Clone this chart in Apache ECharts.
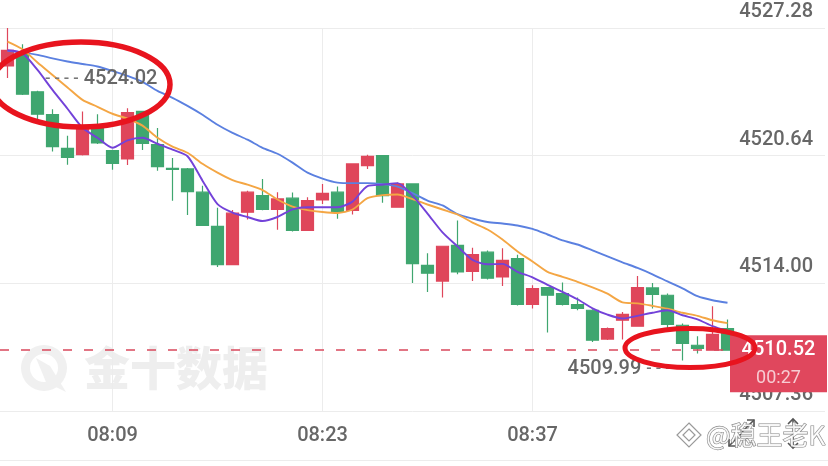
<!DOCTYPE html>
<html>
<head>
<meta charset="utf-8">
<script src="https://cdn.jsdelivr.net/npm/echarts@6/dist/echarts.min.js"></script>
<style>
html,body{margin:0;padding:0;background:#ffffff;}
#c{width:828px;height:466px;}
</style>
</head>
<body>
<div id="c"></div>
<script>
// ---- data ----
const categories = ['08:02','08:03','08:04','08:05','08:06','08:07','08:08','08:09','08:10','08:11',
  '08:12','08:13','08:14','08:15','08:16','08:17','08:18','08:19','08:20','08:21',
  '08:22','08:23','08:24','08:25','08:26','08:27','08:28','08:29','08:30','08:31',
  '08:32','08:33','08:34','08:35','08:36','08:37','08:38','08:39','08:40','08:41',
  '08:42','08:43','08:44','08:45','08:46','08:47','08:48','08:49','08:50','08:51',
  '08:52','08:53','08:54','08:55','08:56'];

// [open, close, low, high]
const candles = [
  [4525.31,4526.12,4524.68,4527.28],
  [4525.91,4523.84,4523.80,4526.43],
  [4523.96,4522.80,4522.37,4524.02],
  [4522.77,4521.11,4520.86,4523.06],
  [4521.02,4520.55,4520.17,4521.68],
  [4520.69,4522.20,4520.65,4522.94],
  [4522.23,4521.30,4521.25,4522.80],
  [4520.90,4520.24,4519.91,4520.95],
  [4520.47,4522.88,4520.16,4523.11],
  [4522.94,4521.28,4520.93,4522.98],
  [4521.21,4520.07,4519.86,4522.08],
  [4519.98,4519.93,4518.30,4520.52],
  [4519.95,4518.77,4517.56,4520.00],
  [4518.74,4517.01,4516.98,4519.08],
  [4516.96,4514.97,4514.85,4517.93],
  [4514.97,4517.65,4514.95,4517.82],
  [4517.70,4518.74,4517.32,4518.82],
  [4518.56,4517.84,4517.80,4519.43],
  [4517.84,4518.39,4516.79,4518.74],
  [4518.43,4516.75,4516.70,4518.72],
  [4516.75,4518.30,4516.72,4518.48],
  [4518.34,4518.68,4518.13,4519.17],
  [4518.74,4517.73,4517.36,4519.03],
  [4517.79,4520.21,4517.58,4520.24],
  [4520.12,4520.60,4519.95,4520.69],
  [4520.64,4518.56,4518.19,4520.66],
  [4517.96,4519.17,4517.95,4519.25],
  [4519.17,4515.02,4514.02,4519.20],
  [4514.93,4514.53,4513.55,4515.57],
  [4514.12,4515.93,4513.26,4515.95],
  [4515.97,4514.59,4514.47,4517.27],
  [4514.62,4515.49,4514.12,4515.85],
  [4515.62,4514.27,4514.20,4515.71],
  [4514.33,4515.19,4513.86,4515.83],
  [4515.28,4512.91,4512.85,4515.49],
  [4512.90,4513.73,4512.69,4513.90],
  [4513.78,4513.38,4511.44,4513.80],
  [4513.47,4512.90,4512.85,4514.04],
  [4512.90,4512.69,4512.60,4513.26],
  [4512.60,4511.04,4510.95,4512.65],
  [4511.10,4511.65,4511.05,4511.70],
  [4512.08,4512.39,4511.08,4512.51],
  [4511.77,4513.78,4511.75,4514.38],
  [4513.76,4513.43,4512.69,4514.02],
  [4513.38,4511.87,4511.60,4513.47],
  [4511.82,4510.87,4509.99,4511.91],
  [4510.78,4510.61,4510.35,4511.25],
  [4510.52,4511.35,4510.50,4512.81],
  [4511.65,4510.52,4510.50,4512.12]
];

const maPurple = [4526.12,4525.96,4525.10,4524.06,4523.08,4522.09,4521.57,4521.05,4521.44,4521.57,
  4521.26,4520.95,4520.61,4519.34,4518.12,4517.68,4517.45,4517.24,4517.45,4517.85,
  4517.96,4517.96,4517.96,4518.25,4519.06,4519.13,4519.21,4518.56,4517.63,4516.65,
  4515.92,4515.22,4514.99,4515.01,4514.60,4514.31,4513.92,4513.56,4513.17,4512.70,
  4512.37,4512.17,4512.31,4512.47,4512.60,4512.34,4512.13,4511.77,4511.51];

const maOrange = [4526.57,4526.17,4525.49,4524.84,4524.19,4523.54,4523.18,4522.82,4522.56,4522.20,
  4521.57,4521.11,4520.79,4520.22,4519.76,4519.37,4519.13,4518.85,4518.36,4517.99,
  4517.81,4517.71,4517.66,4517.84,4518.43,4518.59,4518.62,4518.38,4518.10,4517.84,
  4517.58,4517.16,4516.80,4516.28,4515.66,4515.14,4514.60,4514.34,4514.08,4513.79,
  4513.46,4513.01,4512.96,4512.83,4512.68,4512.47,4512.31,4512.08,4511.93];

const maBlue = [4526.09,4526.01,4525.88,4525.70,4525.54,4525.41,4525.28,4525.05,4524.79,4524.48,
  4524.01,4523.65,4523.23,4522.77,4522.25,4521.83,4521.47,4521.05,4520.74,4520.28,
  4519.76,4519.45,4519.24,4519.21,4519.21,4519.16,4519.03,4518.69,4518.30,4518.05,
  4517.60,4517.37,4517.19,4517.11,4517.01,4516.83,4516.54,4516.23,4516.02,4515.71,
  4515.40,4515.09,4514.80,4514.47,4514.10,4513.74,4513.33,4513.12,4512.99];

const yTicks = [4507.36, 4514.00, 4520.64, 4527.28];
const xLabels = ['08:09','08:23','08:37'];
const lastPrice = 4510.52;
const countdown = '00:27';
const highMark = {time:'08:04', value:4524.02};
const lowMark = {time:'08:47', value:4509.99};

// ---- styles ----
const RED = '#df465b';
const GREEN = '#3fa66f';
const AXIS_TXT = '#676767';
const FONT = 'Roboto';

const chart = echarts.init(document.getElementById('c'), null, {renderer:'canvas'});

const option = {
  animation: false,
  backgroundColor: '#ffffff',
  grid: {left: 0, right: 3, top: 27, bottom: 55},
  xAxis: {
    type: 'category',
    data: categories,
    boundaryGap: true,
    axisLine: {show: false},
    axisTick: {show: false},
    splitLine: {show: false},
    axisLabel: {
      interval: (i, v) => xLabels.indexOf(v) >= 0,
      color: AXIS_TXT, fontSize: 20, fontWeight: 500, fontFamily: FONT, margin: 13, lineHeight: 24
    }
  },
  yAxis: {
    type: 'value',
    position: 'right',
    min: yTicks[0],
    max: yTicks[yTicks.length - 1],
    axisLine: {show: false},
    axisTick: {show: false, customValues: yTicks},
    axisLabel: {
      inside: true, customValues: yTicks,
      formatter: v => Number(v).toFixed(2),
      color: AXIS_TXT, fontSize: 20, fontWeight: 500, fontFamily: FONT, margin: 12,
      verticalAlign: 'bottom', lineHeight: 24, padding: [0, 0, 4, 0]
    },
    splitLine: {show: true, lineStyle: {color: '#ececec', width: 1}}
  },
  series: [
    {
      type: 'candlestick',
      data: candles,
      barWidth: 12,
      z: 2,
      itemStyle: {color: RED, color0: GREEN, borderColor: RED, borderColor0: GREEN, borderWidth: 1.2},
      markLine: {
        silent: true, symbol: ['none', 'none'], z: 3, animation: false,
        label: {show: false},
        lineStyle: {color: '#d9485c', type: [9, 12], width: 1.5},
        data: [{yAxis: lastPrice}]
      },
      markPoint: {
        silent: true, symbol: 'circle', symbolSize: 1, animation: false,
        itemStyle: {color: 'rgba(0,0,0,0)'},
        label: {show: true, color: AXIS_TXT, fontSize: 20, fontWeight: 500, fontFamily: FONT,
                rich: {d: {fontSize: 16, color: '#777', fontFamily: FONT}}},
        data: [
          {coord: [highMark.time, highMark.value], value: highMark.value,
           label: {position: 'right', distance: 7, offset: [0, -12],
                   formatter: p => '{d|- - - -} ' + Number(p.value).toFixed(2)}},
          {coord: [lowMark.time, lowMark.value], value: lowMark.value,
           label: {position: 'left', distance: 2, offset: [0, 9],
                   formatter: p => Number(p.value).toFixed(2) + ' {d|- - - -}'}}
        ]
      }
    },
    {
      type: 'line', data: maBlue, showSymbol: false, smooth: 0.25, z: 3,
      lineStyle: {color: '#5b80e0', width: 1.9},
      markLine: {
        silent: true, symbol: ['none', 'none'], z: 1, animation: false,
        label: {show: false},
        lineStyle: {color: '#ececec', type: 'solid', width: 1},
        data: xLabels.map(t => ({xAxis: categories.indexOf(t)}))
      }
    },
    {
      type: 'line', data: maOrange, showSymbol: false, smooth: 0.25, z: 3,
      lineStyle: {color: '#f4a644', width: 1.9}
    },
    {
      type: 'line', data: maPurple, showSymbol: false, smooth: 0.25, z: 4,
      lineStyle: {color: '#7342d9', width: 1.9}
    }
  ]
};
chart.setOption(option);

// ---- overlay graphics (price tag uses the axis scale) ----
const W = chart.getWidth();
const py = chart.convertToPixel({yAxisIndex: 0}, lastPrice);
const boxL = W - 98;
chart.setOption({
  graphic: [
    // watermark logo
    {type: 'ring', z: 0, silent: true, shape: {cx: 44, cy: 368, r: 23, r0: 14}, style: {fill: '#f0f0f0'}},
    {type: 'polygon', z: 0, silent: true, shape: {points: [[36, 358], [50, 366], [66, 392], [46, 382]]}, style: {fill: '#f0f0f0'}},
    {type: 'text', z: 0, silent: true, x: 84, y: 368,
     style: {text: '金十数据', font: '900 46px "Noto Sans CJK SC"', fill: '#eeeeee', align: 'left', verticalAlign: 'middle'}},
    // bottom border
    {type: 'line', z: 0, silent: true, shape: {x1: 0, y1: 460.5, x2: W, y2: 460.5}, style: {stroke: '#ececec', lineWidth: 1}},
    // price tag
    {type: 'rect', z: 50, silent: true, shape: {x: boxL, y: py - 15, width: 97, height: 57}, style: {fill: '#e0475d'}},
    {type: 'text', z: 51, silent: true, x: boxL + 48.5, y: py,
     style: {text: lastPrice.toFixed(2), font: '500 20px Roboto', fill: '#ffffff', align: 'center', verticalAlign: 'middle'}},
    {type: 'text', z: 51, silent: true, x: boxL + 48.5, y: py + 28,
     style: {text: countdown, font: '18px Roboto', fill: '#f7cbd2', align: 'center', verticalAlign: 'middle'}},
    // hand-drawn red ellipses
    {type: 'ellipse', z: 60, silent: true, shape: {cx: 81, cy: 84.5, rx: 89, ry: 42.5},
     style: {fill: 'none', stroke: '#e8141e', lineWidth: 5.5}},
    {type: 'ellipse', z: 60, silent: true, shape: {cx: 690, cy: 348, rx: 65, ry: 19.5},
     style: {fill: 'none', stroke: '#e8141e', lineWidth: 5}},
    // app icons
    {type: 'polyline', z: 65, silent: true, shape: {points: [[742, 432], [754, 420]]}, style: {stroke: '#555', lineWidth: 1.6, fill: 'none'}},
    {type: 'polyline', z: 65, silent: true, shape: {points: [[747, 420], [754, 420], [754, 427]]}, style: {stroke: '#555', lineWidth: 1.6, fill: 'none'}},
    {type: 'polyline', z: 65, silent: true, shape: {points: [[741, 434], [729, 446]]}, style: {stroke: '#555', lineWidth: 1.6, fill: 'none'}},
    {type: 'polyline', z: 65, silent: true, shape: {points: [[729, 439], [729, 446], [736, 446]]}, style: {stroke: '#555', lineWidth: 1.6, fill: 'none'}},
    {type: 'polyline', z: 65, silent: true, shape: {points: [[793, 419], [793, 448]]}, style: {stroke: '#555', lineWidth: 1.6, fill: 'none'}},
    {type: 'polyline', z: 65, silent: true, shape: {points: [[788, 424], [793, 419], [798, 424]]}, style: {stroke: '#555', lineWidth: 1.6, fill: 'none'}},
    {type: 'polyline', z: 65, silent: true, shape: {points: [[788, 443], [793, 448], [798, 443]]}, style: {stroke: '#555', lineWidth: 1.6, fill: 'none'}},
    // weibo-style watermark
    {type: 'polygon', z: 70, silent: true, shape: {points: [[689, 423], [701, 435], [689, 447], [677, 435]]},
     style: {fill: 'rgba(255,255,255,0.85)', stroke: '#9a9a9a', lineWidth: 1.2}},
    {type: 'polygon', z: 70, silent: true, shape: {points: [[689, 429], [695, 435], [689, 441], [683, 435]]},
     style: {fill: 'rgba(255,255,255,0.85)', stroke: '#9a9a9a', lineWidth: 1.2}},
    {type: 'text', z: 70, silent: true, x: 706, y: 435,
     style: {text: '@稳王老K', font: '26px "Noto Sans CJK SC"', fill: 'rgba(255,255,255,0.88)', stroke: 'rgba(110,110,110,0.85)', lineWidth: 1.2, align: 'left', verticalAlign: 'middle'}}
  ]
});
</script>
</body>
</html>
